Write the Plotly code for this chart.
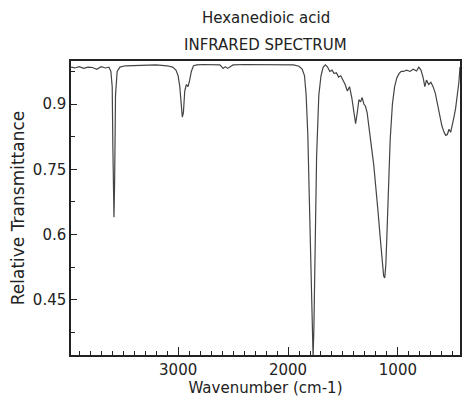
import plotly.graph_objects as go

wavenumber = [3975, 3940, 3900, 3860, 3820, 3780, 3740, 3700, 3660, 3630, 3612, 3600, 3594, 3589, 3584, 3578, 3570, 3555, 3530,
              3480, 3400, 3300, 3200, 3100, 3050, 3020, 3000, 2985, 2972, 2962, 2952, 2940, 2925, 2910, 2895, 2880, 2860, 2830,
              2780, 2700, 2620, 2590, 2570, 2550, 2500, 2400, 2300, 2200, 2100, 2000, 1950, 1900, 1870, 1850, 1835, 1820,
              1805, 1790, 1780, 1772, 1765, 1755, 1740, 1720, 1700, 1680, 1660, 1640, 1620, 1600, 1580, 1560, 1540, 1520,
              1500, 1480, 1460, 1440, 1420, 1400, 1385, 1370, 1355, 1340, 1325, 1310, 1295, 1280, 1260, 1240, 1220, 1200,
              1180, 1160, 1145, 1130, 1120, 1110, 1100, 1085, 1070, 1050, 1030, 1010, 990, 970, 950, 920, 890, 860, 830,
              810, 790, 770, 755, 740, 720, 700, 680, 660, 640, 620, 600, 580, 565, 550, 535, 520, 505, 490, 475, 460, 445, 435]
transmittance = [0.985, 0.983, 0.986, 0.982, 0.985, 0.984, 0.980, 0.986, 0.983, 0.985, 0.975, 0.94, 0.80, 0.66, 0.64, 0.72, 0.92, 0.975, 0.985,
                 0.988, 0.989, 0.990, 0.990, 0.988, 0.985, 0.978, 0.965, 0.94, 0.90, 0.87, 0.88, 0.93, 0.945, 0.94, 0.955, 0.975, 0.988, 0.990,
                 0.991, 0.991, 0.990, 0.982, 0.986, 0.982, 0.990, 0.991, 0.991, 0.991, 0.991, 0.990, 0.990, 0.987, 0.980, 0.965, 0.92, 0.83,
                 0.68, 0.50, 0.40, 0.32, 0.38, 0.55, 0.78, 0.92, 0.965, 0.985, 0.990, 0.985, 0.975, 0.978, 0.970, 0.972, 0.962, 0.965,
                 0.955, 0.945, 0.930, 0.940, 0.915, 0.880, 0.855, 0.880, 0.910, 0.905, 0.915, 0.900, 0.895, 0.880, 0.845, 0.800, 0.760, 0.710,
                 0.650, 0.590, 0.540, 0.505, 0.500, 0.530, 0.600, 0.720, 0.820, 0.900, 0.940, 0.960, 0.970, 0.975, 0.975, 0.978, 0.975, 0.980, 0.976,
                 0.985, 0.978, 0.960, 0.940, 0.955, 0.945, 0.950, 0.940, 0.925, 0.900, 0.870, 0.850, 0.835, 0.828, 0.830, 0.842, 0.835, 0.850, 0.870, 0.890, 0.920, 0.950, 0.985]

fig = go.Figure(go.Scatter(x=wavenumber, y=transmittance, mode='lines',
                           line=dict(color='#444444', width=1.2), hoverinfo='skip'))

fig.update_layout(
    width=466, height=408,
    margin=dict(l=63, r=14, t=53, b=61),
    paper_bgcolor='white', plot_bgcolor='white',
    showlegend=False,
    font=dict(family='DejaVu Sans', color='#222222'),
)
# two-line title as annotations so it stays inside the page
fig.add_annotation(text='Hexanedioic acid', xref='paper', yref='paper', x=0.5, y=1.146,
                   showarrow=False, font=dict(size=15), yanchor='middle')
fig.add_annotation(text='INFRARED SPECTRUM', xref='paper', yref='paper', x=0.5, y=1.054,
                   showarrow=False, font=dict(size=15), yanchor='middle')
fig.update_xaxes(
    range=[3975, 435], showgrid=False, zeroline=False, automargin=False,
    showline=True, linecolor='#222222', linewidth=1.5, mirror=True,
    tickmode='array', tickvals=[3000, 2000, 1000], ticks='inside', ticklen=8, tickcolor='#222222',
    minor=dict(dtick=100, ticks='inside', ticklen=4, tickcolor='#222222'),
    tickfont=dict(size=15),
    title=dict(text='Wavenumber (cm-1)', font=dict(size=15), standoff=2),
)
fig.update_yaxes(
    range=[0.323, 0.999], showgrid=False, zeroline=False, automargin=False,
    showline=True, linecolor='#222222', linewidth=1.5, mirror=True,
    tickmode='array', tickvals=[0.45, 0.6, 0.75, 0.9], ticktext=['0.45', '0.6', '0.75', '0.9'],
    ticks='inside', ticklen=6, tickcolor='#222222',
    minor=dict(tickvals=[0.375, 0.525, 0.675, 0.825, 0.975], ticks='inside', ticklen=4, tickcolor='#222222'),
    tickfont=dict(size=15),
    title=dict(text='Relative Transmittance', font=dict(size=17), standoff=6),
)

fig.write_html("out.html")
